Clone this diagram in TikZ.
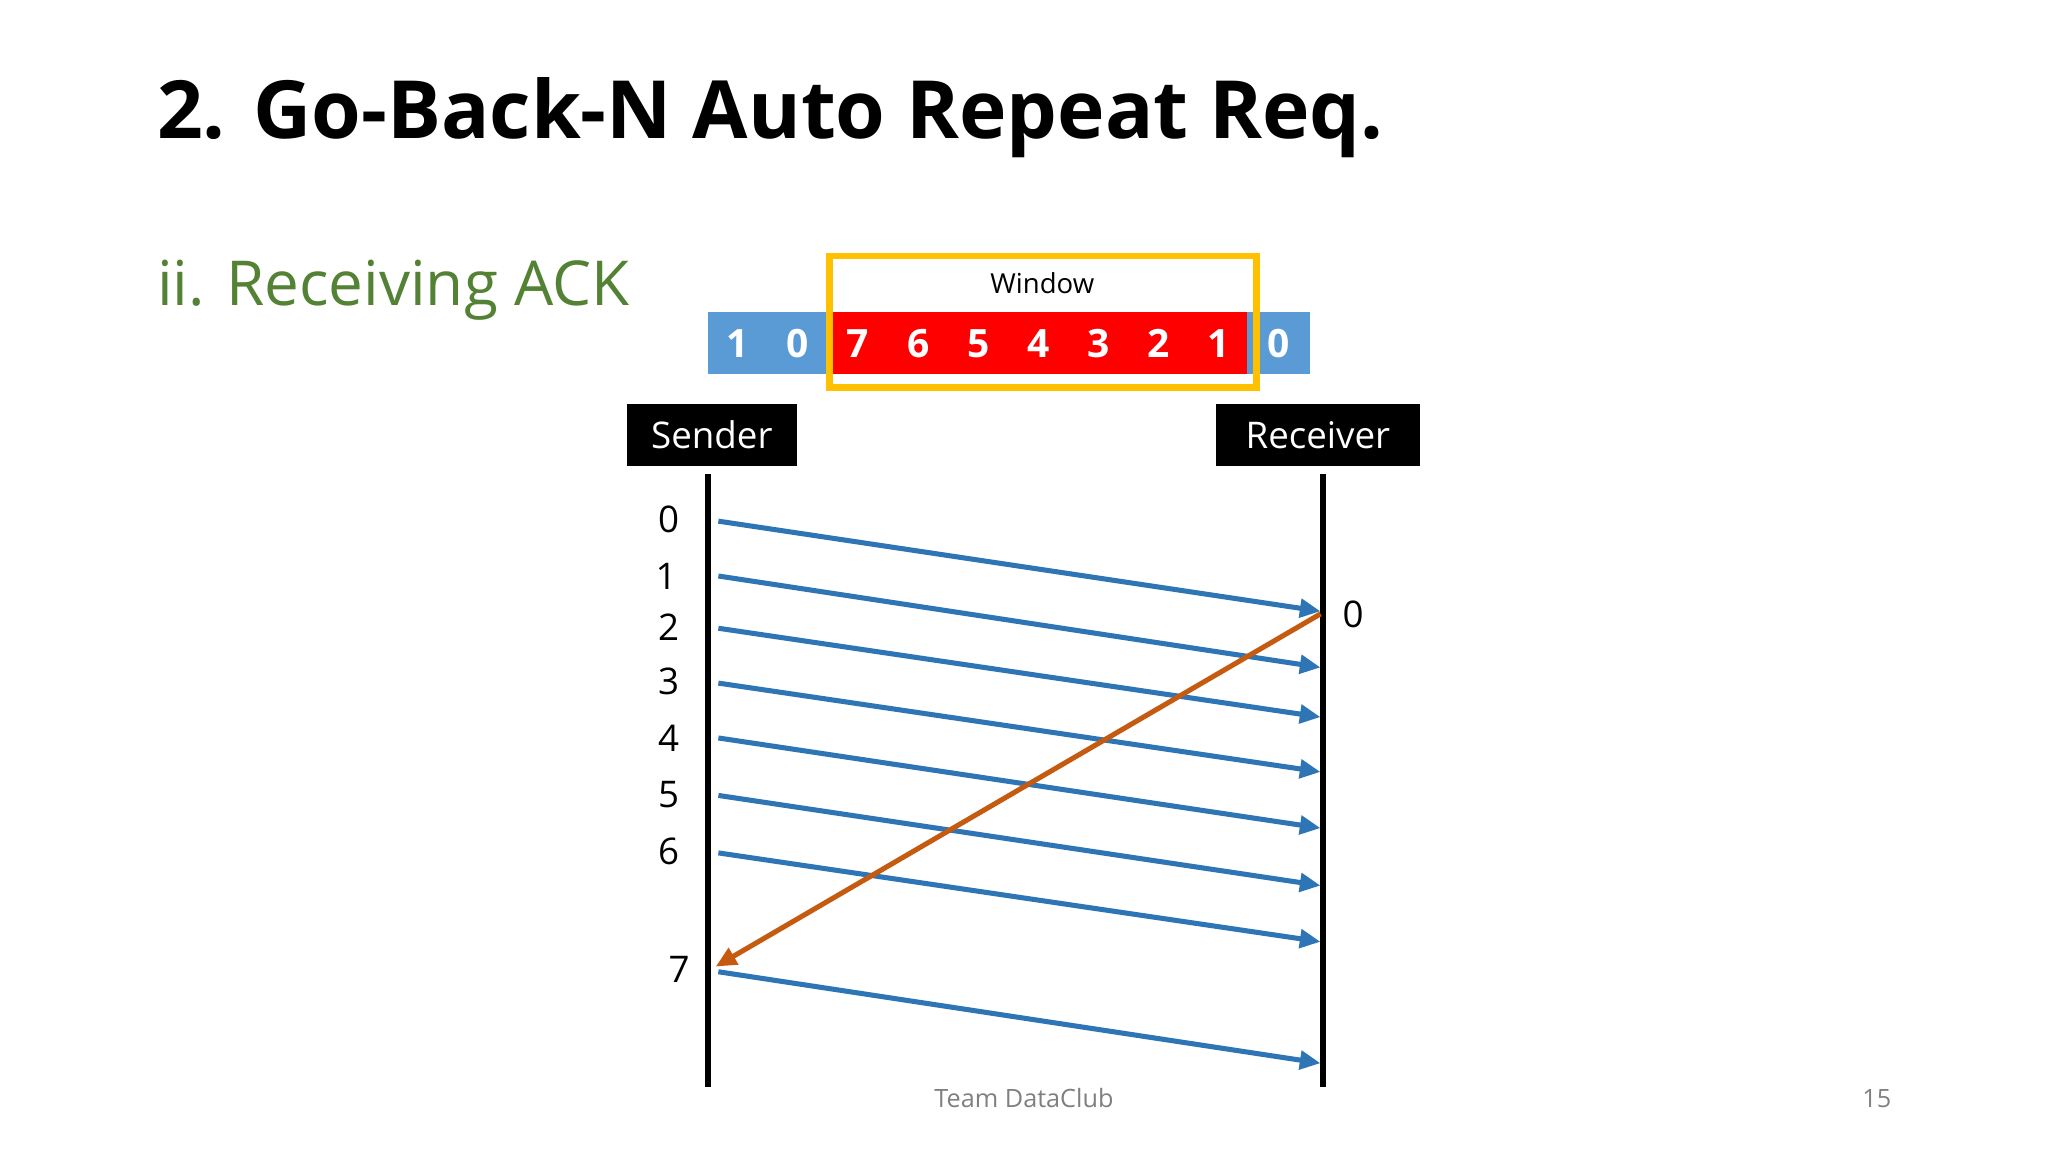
\documentclass[tikz,border=0pt]{standalone}
\usepackage{fontspec}
\setmainfont{Open Sans}
\usetikzlibrary{arrows.meta}
\definecolor{blu}{RGB}{46,117,182}
\definecolor{org}{RGB}{197,90,17}
\definecolor{grn}{RGB}{84,130,53}
\definecolor{sblue}{RGB}{91,155,213}
\definecolor{sred}{RGB}{255,0,0}
\definecolor{ylw}{RGB}{255,192,0}
\begin{document}
\begin{tikzpicture}[x=0.02cm,y=-0.02cm,
  num/.style={font=\fontsize{17}{17}\selectfont\bfseries,text=white},
  lab/.style={font=\fontsize{16}{16}\selectfont},
  hbox/.style={fill=black,text=white,font=\fontsize{16}{16}\selectfont,minimum height=0.96cm,inner sep=0pt},
  msg/.style={blu,line width=2.2pt,-{Triangle[length=9pt,width=8pt]}},
  ack/.style={org,line width=2.2pt,-{Triangle[length=9pt,width=8pt]}}]
\useasboundingbox (0,0) rectangle (1568,882);
\node[anchor=west,font=\fontsize{35}{35}\selectfont\bfseries] (title) at (114,90) {2. Go-Back-N Auto Repeat Req.};
\node[anchor=west,font=\fontsize{27}{27}\selectfont,text=grn] (sub) at (114,222) {ii. Receiving ACK};
\fill[sblue] (542,239) rectangle (1003,286);
\fill[sred] (637,239) rectangle (955,286);
\foreach \x/\t [count=\i] in {565/1,611/0,657/7,703/6,749/5,795/4,841/3,887/2,933/1,979/0}
  \node[num] (n\i) at (\x,263) {\t};
\draw[ylw,line width=3pt] (635,196) rectangle (962,297);
\node[font=\fontsize{12}{12}\selectfont] (win) at (798,217) {Window};
\node[hbox,minimum width=2.6cm] (snd) at (545,333) {Sender};
\node[hbox,minimum width=3.12cm] (rcv) at (1009,333) {Receiver};
\coordinate (st) at (542,363); \coordinate (sb) at (542,832);
\coordinate (rt) at (1013,363); \coordinate (rb) at (1013,832);
\draw[line width=2.3pt] (st) -- (sb);
\draw[line width=2.3pt] (rt) -- (rb);
\foreach \a/\b/\t/\lx [count=\i] in {399/468/0/512,441/511/1/510,481/549/2/512,523/591/3/512,565/634/4/512,609/678/5/512,653/721/6/512,744/814/7/520}{
  \coordinate (s\i) at (550,\a); \coordinate (r\i) at (1011,\b);
  \draw[msg] (s\i) -- (r\i);
}
\foreach \y/\t/\lx [count=\i] in {398/0/512,441/1/510,480/2/512,522/3/512,565/4/512,608/5/512,652/6/512,742/7/520}
  \node[lab] (l\i) at (\lx,\y) {\t};
\node[lab] (r0) at (1036,470) {0};
\coordinate (a1) at (1011,470); \coordinate (a2) at (548,740);
\draw[ack] (a1) -- (a2);
\node[font=\fontsize{11}{11}\selectfont,text=gray] (ft) at (784,841) {Team DataClub};
\node[font=\fontsize{11}{11}\selectfont,text=gray] (pg) at (1437,841) {15};
\end{tikzpicture}
\end{document}
